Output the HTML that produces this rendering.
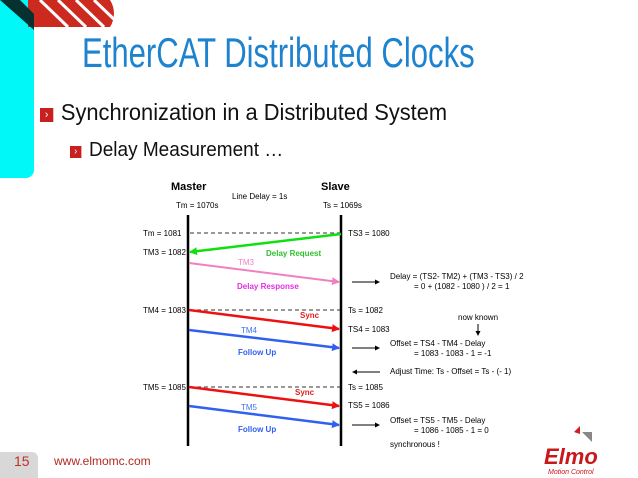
<!DOCTYPE html>
<html><head><meta charset="utf-8"><style>
body{margin:0;width:638px;height:478px;overflow:hidden;background:#fff;position:relative;font-family:"Liberation Sans",sans-serif}
.a{position:absolute}
</style></head><body>
<div class="a" style="left:0;top:0;width:34px;height:178px;background:#00f8f8;border-bottom-right-radius:8px"></div>
<svg class="a" style="left:0;top:0" width="140" height="36">
<path d="M28 0 H110 A25 25 0 0 1 110 27 H28 Z" fill="#cc2a1e"/>
<g stroke="#fff" stroke-width="3"><line x1="40" y1="0" x2="68" y2="27"/><line x1="58" y1="0" x2="86" y2="27"/><line x1="76" y1="0" x2="104" y2="27"/><line x1="94" y1="0" x2="122" y2="27"/></g>
<path d="M0 0 H20 L34 14 V30 Z" fill="#073030"/>
<line x1="0" y1="6" x2="28" y2="32" stroke="#00f8f8" stroke-width="2"/>
</svg>
<div class="a" style="left:82px;top:29px;font-size:42px;color:#1e83cf;white-space:nowrap;transform:scaleX(0.74);transform-origin:0 0">EtherCAT Distributed Clocks</div>
<div class="a" style="left:40px;top:99px;font-size:23px;color:#111;white-space:nowrap;transform:scaleX(0.95);transform-origin:0 0"><span style="display:inline-block;width:14px;height:14px;background:#c82020;color:#fff;font-size:11px;line-height:14px;text-align:center;margin-right:8px;vertical-align:2px">›</span>Synchronization in a Distributed System</div>
<div class="a" style="left:70px;top:139px;font-size:20px;color:#111;white-space:nowrap;transform:scaleX(0.95);transform-origin:0 0"><span style="display:inline-block;width:12px;height:12px;background:#c82020;color:#fff;font-size:10px;line-height:12px;text-align:center;margin-right:8px;vertical-align:2px">›</span>Delay Measurement …</div>

<svg class="a" style="left:0;top:0" width="638" height="478" font-family="Liberation Sans, sans-serif" font-size="8">
<defs>
<marker id="mg" markerWidth="8" markerHeight="8" refX="7" refY="4" orient="auto" markerUnits="userSpaceOnUse"><path d="M0,0 L8,4 L0,8Z" fill="#10e010"/></marker>
<marker id="mp" markerWidth="8" markerHeight="8" refX="7" refY="4" orient="auto" markerUnits="userSpaceOnUse"><path d="M0,0 L8,4 L0,8Z" fill="#f080c0"/></marker>
<marker id="mr" markerWidth="8" markerHeight="8" refX="7" refY="4" orient="auto" markerUnits="userSpaceOnUse"><path d="M0,0 L8,4 L0,8Z" fill="#ee1010"/></marker>
<marker id="mb" markerWidth="8" markerHeight="8" refX="7" refY="4" orient="auto" markerUnits="userSpaceOnUse"><path d="M0,0 L8,4 L0,8Z" fill="#3060f0"/></marker>
<marker id="mk" markerWidth="5" markerHeight="5" refX="4" refY="2.5" orient="auto" markerUnits="userSpaceOnUse"><path d="M0,0 L5,2.5 L0,5Z" fill="#000"/></marker>
</defs>
<text x="171" y="190" font-size="11" font-weight="bold">Master</text>
<text x="321" y="190" font-size="11" font-weight="bold">Slave</text>
<text x="232" y="199">Line Delay = 1s</text>
<text x="176" y="208">Tm = 1070s</text>
<text x="323" y="208">Ts = 1069s</text>
<line x1="188" y1="215" x2="188" y2="446" stroke="#000" stroke-width="2.5"/>
<line x1="341" y1="215" x2="341" y2="446" stroke="#000" stroke-width="2.5"/>
<g stroke="#333" stroke-dasharray="4,3" stroke-width="1">
<line x1="190" y1="233" x2="340" y2="233"/><line x1="190" y1="310" x2="340" y2="310"/><line x1="190" y1="387" x2="340" y2="387"/></g>
<text x="143" y="236">Tm = 1081</text>
<text x="143" y="255">TM3 = 1082</text>
<text x="143" y="313">TM4 = 1083</text>
<text x="143" y="390">TM5 = 1085</text>
<text x="348" y="236">TS3 = 1080</text>
<text x="348" y="313">Ts = 1082</text>
<text x="348" y="332">TS4 = 1083</text>
<text x="348" y="390">Ts = 1085</text>
<text x="348" y="408">TS5 = 1086</text>
<line x1="341" y1="234" x2="190" y2="252" stroke="#10e010" stroke-width="2.5" marker-end="url(#mg)"/>
<text x="266" y="256" fill="#30c030" font-weight="bold">Delay Request</text>
<line x1="189" y1="263" x2="339" y2="282" stroke="#f080c0" stroke-width="2" marker-end="url(#mp)"/>
<text x="238" y="265" fill="#f080c0">TM3</text>
<text x="237" y="289" fill="#e030e0" font-weight="bold">Delay Response</text>
<line x1="189" y1="310" x2="339" y2="329" stroke="#ee1010" stroke-width="2.5" marker-end="url(#mr)"/>
<text x="300" y="318" fill="#e02020" font-weight="bold">Sync</text>
<line x1="189" y1="330" x2="339" y2="348" stroke="#3060f0" stroke-width="2.5" marker-end="url(#mb)"/>
<text x="241" y="333" fill="#4070f0">TM4</text>
<text x="238" y="355" fill="#3060f0" font-weight="bold">Follow Up</text>
<line x1="189" y1="387" x2="339" y2="406" stroke="#ee1010" stroke-width="2.5" marker-end="url(#mr)"/>
<text x="295" y="395" fill="#e02020" font-weight="bold">Sync</text>
<line x1="189" y1="406" x2="339" y2="425" stroke="#3060f0" stroke-width="2.5" marker-end="url(#mb)"/>
<text x="241" y="410" fill="#4070f0">TM5</text>
<text x="238" y="432" fill="#3060f0" font-weight="bold">Follow Up</text>
<g stroke="#000" stroke-width="1">
<line x1="352" y1="282" x2="379" y2="282" marker-end="url(#mk)"/>
<line x1="352" y1="348" x2="379" y2="348" marker-end="url(#mk)"/>
<line x1="380" y1="372" x2="353" y2="372" marker-end="url(#mk)"/>
<line x1="352" y1="425" x2="379" y2="425" marker-end="url(#mk)"/>
<line x1="478" y1="324" x2="478" y2="335" marker-end="url(#mk)"/>
</g>
<text x="390" y="279">Delay = (TS2- TM2) + (TM3 - TS3) / 2</text>
<text x="414" y="289">= 0 + (1082 - 1080 ) / 2 = 1</text>
<text x="458" y="320">now known</text>
<text x="390" y="346">Offset = TS4 - TM4 - Delay</text>
<text x="414" y="356">= 1083 - 1083 - 1 = -1</text>
<text x="390" y="374">Adjust Time: Ts - Offset = Ts - (- 1)</text>
<text x="390" y="423">Offset = TS5 - TM5 - Delay</text>
<text x="414" y="433">= 1086 - 1085 - 1 = 0</text>
<text x="390" y="447">synchronous !</text>
</svg>

<div class="a" style="left:0;top:452px;width:38px;height:26px;background:#d8d8d8;border-top-right-radius:6px"></div>
<div class="a" style="left:14px;top:453px;font-size:14px;color:#c03020">15</div>
<div class="a" style="left:54px;top:454px;font-size:12px;color:#b02a20">www.elmomc.com</div>
<svg class="a" style="left:540px;top:424px" width="70" height="54">
<path d="M42 8 L52 8 L52 18 Z" fill="#888"/><path d="M34 8 L40 2 L40 10 Z" fill="#d02020"/>
<text x="4" y="40" font-size="22" font-weight="bold" font-style="italic" fill="#c8181c" font-family="Liberation Sans, sans-serif">Elmo</text>
<text x="8" y="50" font-size="7" font-style="italic" fill="#c8181c" font-family="Liberation Sans, sans-serif">Motion Control</text>
</svg>
</body></html>
